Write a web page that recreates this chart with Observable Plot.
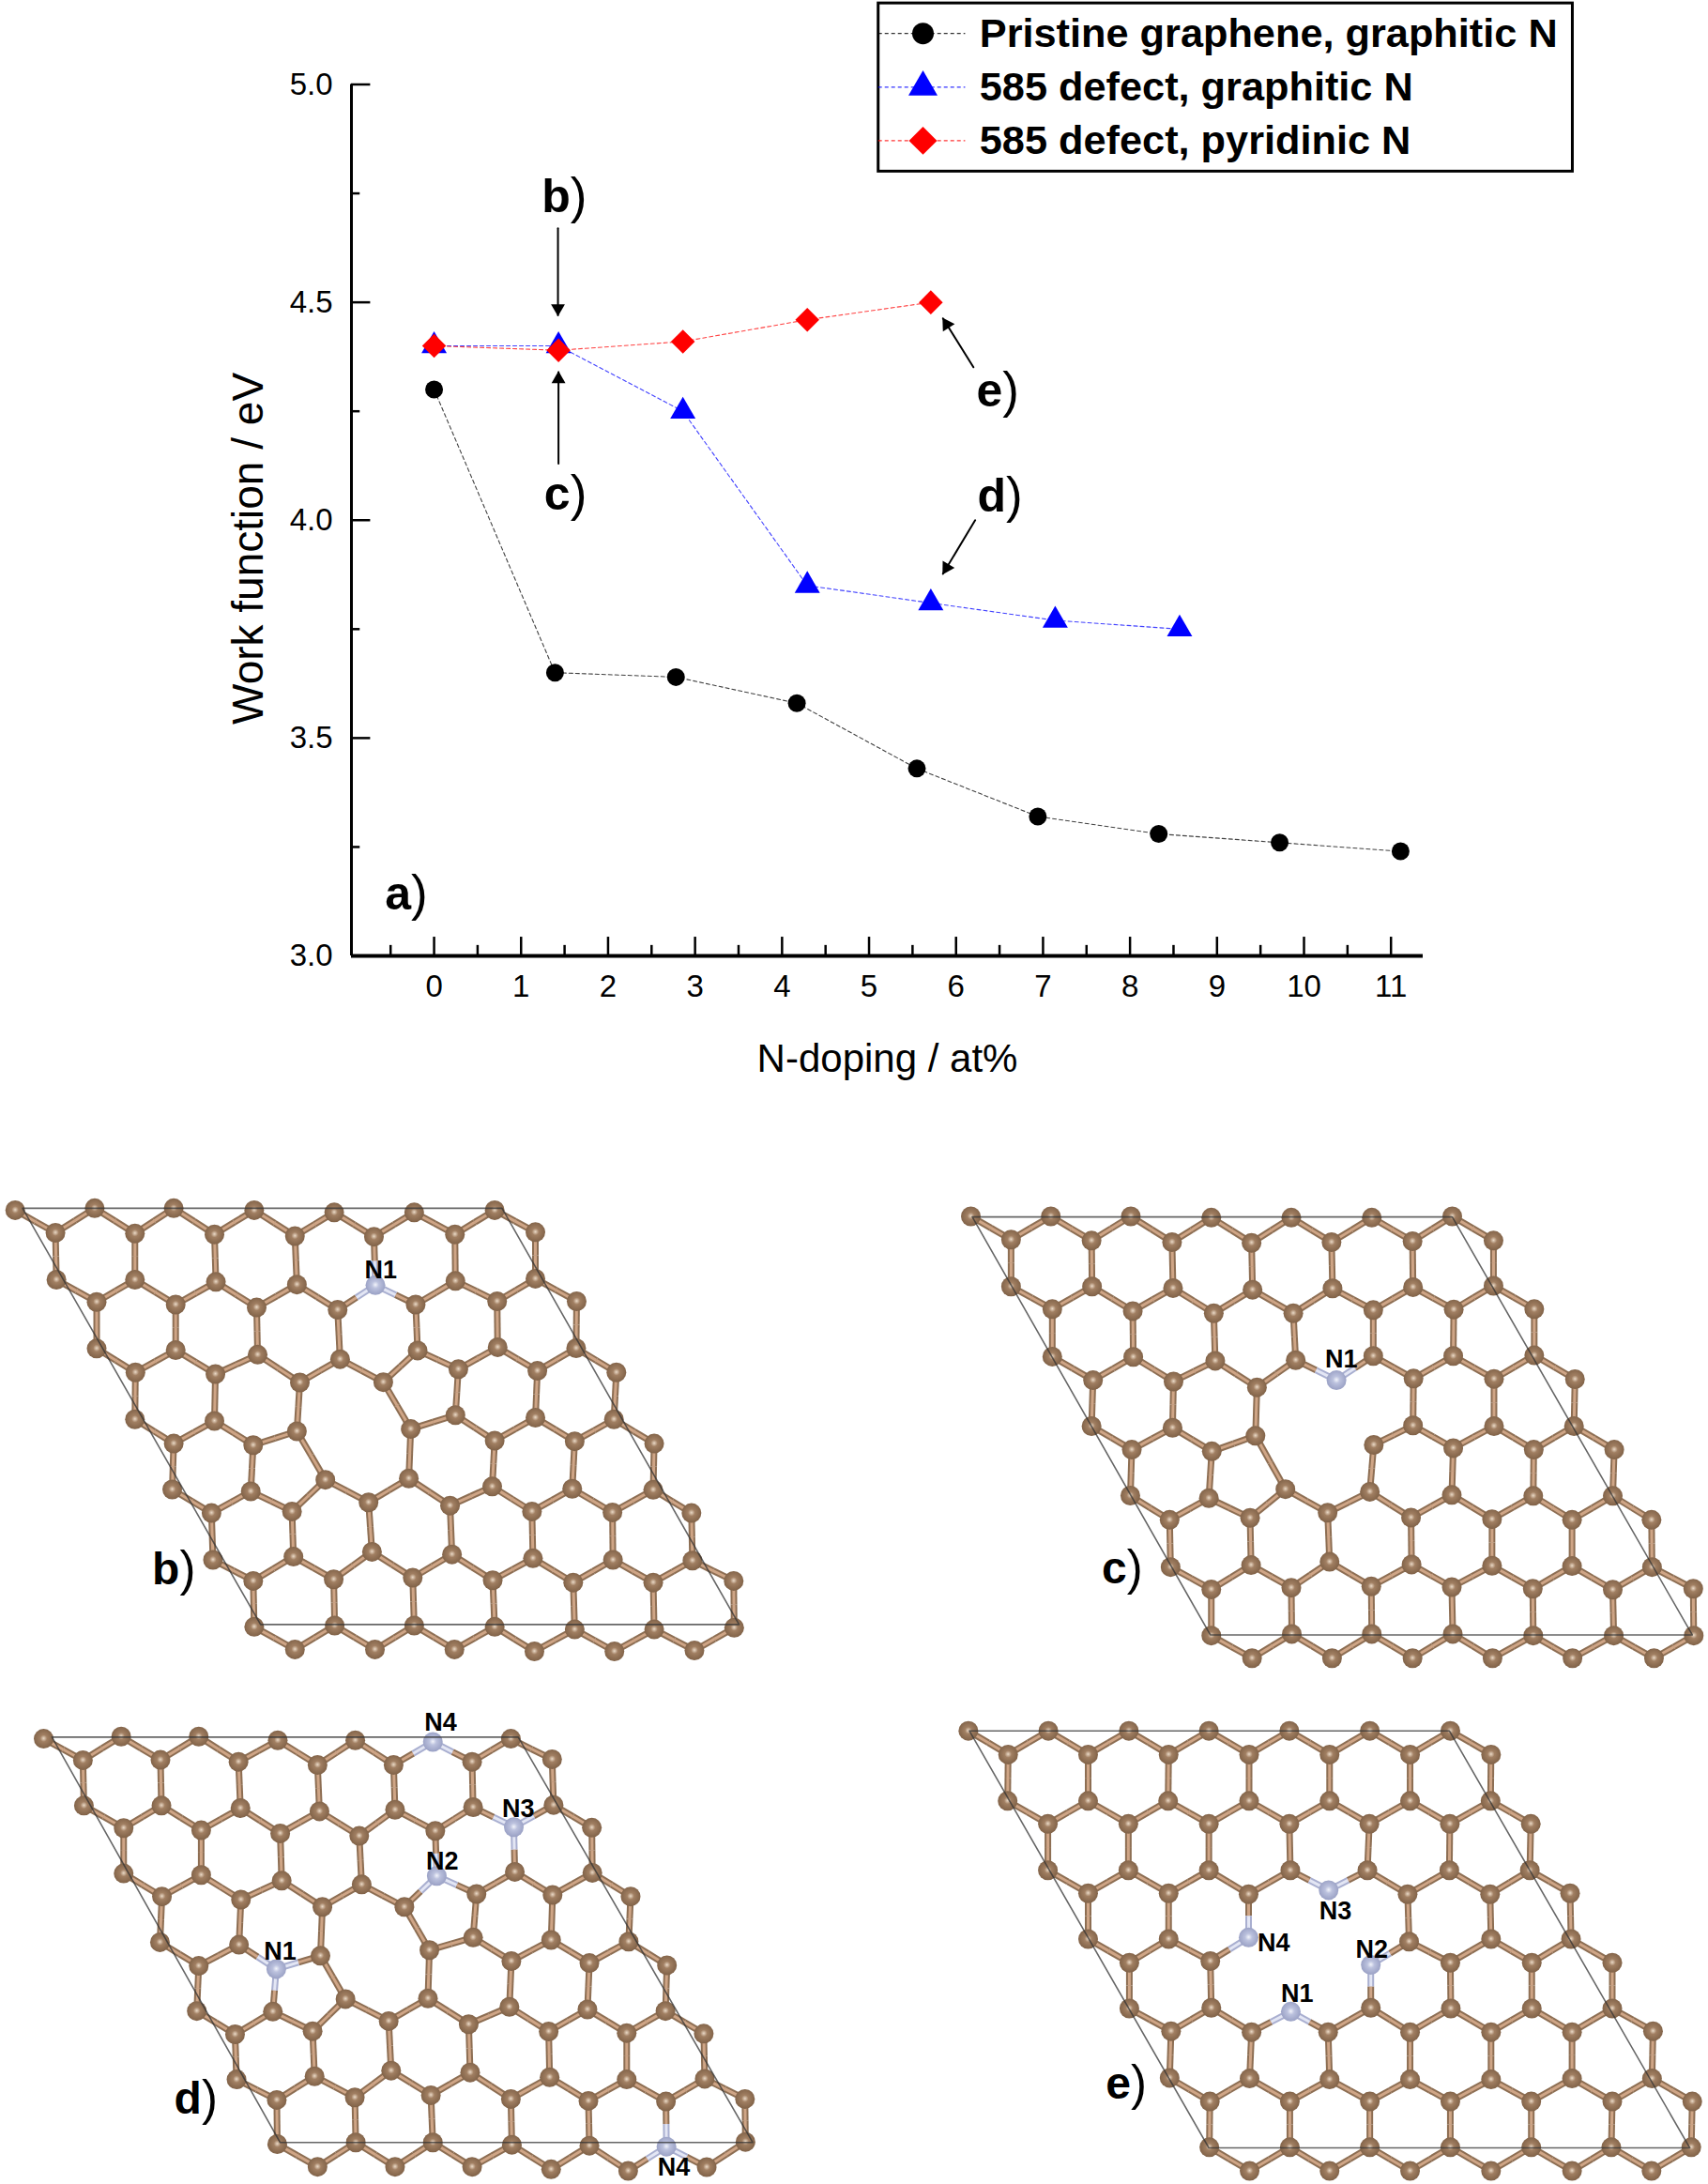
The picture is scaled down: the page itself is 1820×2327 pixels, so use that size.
<!DOCTYPE html>
<html>
<head>
<meta charset="utf-8">
<script src="https://cdn.jsdelivr.net/npm/d3@7"></script>
<script src="https://cdn.jsdelivr.net/npm/@observablehq/plot@0.6"></script>
<style>
html,body{margin:0;padding:0;background:#fff}
#page{position:relative;width:1820px;height:2327px;overflow:hidden;background:#fff}
</style>
</head>
<body>
<div id="page"></div>
<script>
// ---------- chart a) values ----------
const pristineX = [0, 1.39, 2.78, 4.17, 5.55, 6.94, 8.33, 9.72, 11.11];
const pristineY = [4.30, 3.65, 3.64, 3.58, 3.43, 3.32, 3.28, 3.26, 3.24];
const graphiticX = [0, 1.43, 2.86, 4.29, 5.71, 7.14, 8.57];
const graphiticY = [4.40, 4.40, 4.25, 3.85, 3.81, 3.77, 3.75];
const pyridinicX = [0, 1.43, 2.86, 4.29, 5.71];
const pyridinicY = [4.40, 4.39, 4.41, 4.46, 4.50];
const xMajor = [0,1,2,3,4,5,6,7,8,9,10,11];
const xMinor = [-0.5,0.5,1.5,2.5,3.5,4.5,5.5,6.5,7.5,8.5,9.5,10.5];
const yMajor = [3,3.5,4,4.5,5];
const yMinor = [3.25,3.75,4.25,4.75];
const yTickLabels = ["3.0","3.5","4.0","4.5","5.0"];
const legendNames = ["Pristine graphene, graphitic N","585 defect, graphitic N","585 defect, pyridinic N"];
const legendRowY = [5.117, 4.994, 4.871];
const legendColors = ["#000000","#0000ff","#ff0000"];
const legendSymbols = ["circle","triangle","diamond2"];
const legendSizes = [11.5, 11.5, 13.5];
const panelTags = ["a","b","c","d","e"];
const panelTagX = [-0.34, 1.49, 1.49, 6.50, 6.46];
const panelTagY = [3.142, 4.742, 4.059, 4.054, 4.296];
const arrowX1 = [1.424, 1.43, 6.22, 6.20];
const arrowY1 = [4.67, 4.13, 4.00, 4.351];
const arrowX2 = [1.424, 1.43, 5.85, 5.85];
const arrowY2 = [4.47, 4.34, 3.877, 4.463];

// ---------- atomic structures ----------
const bCarbon = [[30,113],[192,107],[353,107],[517,113],[680,120],[843,120],[1007,113],
[112,183],[274,185],[436,188],[600,193],[761,195],[926,188],[1090,181],
[114,328],[274,328],[439,335],[604,343],[927,332],[1090,325],
[196,397],[357,405],[522,414],[687,421],[846,405],[1012,395],[1174,395],
[196,541],[357,546],[524,560],[692,574],[850,547],[1013,537],[1173,540],
[275,615],[438,620],[610,646],[780,645],[933,605],[1094,610],[1255,615],
[274,760],[436,765],[604,797],[836,790],[927,747],[1090,755],[1250,760],
[353,835],[515,840],[1007,826],[1170,828],[1332,835],
[350,977],[510,983],[662,947],[832,943],[1002,968],[1165,975],[1330,978],
[430,1050],[594,1045],[750,1017],[916,1027],[1083,1045],[1247,1048],[1408,1050],
[433,1195],[597,1185],[757,1170],[920,1178],[1085,1190],[1248,1195],[1410,1197],
[515,1260],[679,1255],[840,1250],[1003,1258],[1167,1265],[1330,1265],[1494,1260],
[517,1402],[681,1398],[843,1398],[1007,1402],[1170,1410],[1332,1410],[1495,1405],
[600,1472],[763,1472],[925,1472],[1088,1478],[1251,1478],[1414,1475]];
const bNitrogen = [[764,345]];
const bCell = [[45,107],[1022,107],[1505,1395],[530,1395],[45,107]];
const bLabels = [["N1",775,300]];
const bTag = ["b",365,1225];

const cCarbon = [[65,103],[228,103],[391,103],[555,107],[718,107],[882,107],[1046,103],
[147,175],[311,178],[475,183],[637,185],[800,183],[965,180],[1130,178],
[147,320],[312,320],[477,325],[639,330],[802,326],[966,322],[1130,318],
[231,390],[395,396],[560,403],[722,403],[885,393],[1049,391],[1213,390],
[231,537],[396,538],[563,550],[727,548],[885,535],[1048,535],[1213,533],
[314,610],[478,614],[648,632],[967,605],[1131,606],[1296,607],
[311,752],[476,757],[645,782],[966,750],[1131,752],[1294,752],
[393,825],[556,830],[886,810],[1048,820],[1212,825],[1376,825],
[390,967],[550,975],[706,947],[878,955],[1045,965],[1211,968],[1373,968],
[470,1042],[634,1036],[792,1020],[962,1035],[1127,1040],[1290,1042],[1452,1042],
[472,1188],[636,1182],[796,1172],[963,1180],[1127,1184],[1290,1185],[1453,1188],
[555,1257],[718,1252],[881,1248],[1045,1250],[1210,1255],[1373,1258],[1537,1255],
[555,1400],[719,1395],[882,1395],[1047,1395],[1211,1400],[1375,1400],[1538,1400],
[638,1470],[801,1470],[965,1470],[1128,1470],[1291,1470],[1457,1470]];
const cNitrogen = [[810,610]];
const cCell = [[68,105],[1046,105],[1535,1398],[553,1398],[68,105]];
const cLabels = [["N1",820,545]];
const cTag = ["c",383,1195];

const dCarbon = [[88,155],[246,148],[404,148],[565,160],[723,160],[1040,155],
[168,223],[326,222],[485,228],[646,238],[801,238],[961,228],[1124,220],
[170,367],[328,367],[489,375],[650,385],[804,380],[963,372],[1127,365],
[251,438],[409,445],[570,455],[731,463],[886,447],[1205,437],
[251,582],[409,587],[573,605],[736,617],[1048,577],[1206,580],
[329,655],[490,665],[656,688],[823,688],[970,647],[1125,650],[1284,655],
[325,800],[486,808],[652,843],[874,825],[963,785],[1122,793],[1280,798],
[404,875],[1041,860],[1200,866],[1358,873],
[400,1018],[555,1020],[703,980],[871,978],[1037,1005],[1196,1013],[1355,1018],
[478,1092],[636,1082],[791,1050],[954,1060],[1117,1083],[1276,1088],[1433,1090],
[481,1235],[640,1225],[796,1207],[957,1213],[1119,1228],[1276,1235],[1435,1233],
[563,1300],[722,1292],[877,1285],[1040,1297],[1198,1303],[1356,1305],[1517,1297],
[564,1440],[724,1435],[881,1435],[1042,1442],[1200,1445],[1518,1433],
[646,1512],[804,1512],[961,1512],[1122,1520],[1279,1525],[1439,1513]];
const dNitrogen = [[881,165],[1046,435],[889,590],[562,885],[1357,1448]];
const dCell = [[105,150],[1055,150],[1533,1435],[570,1435],[105,150]];
const dLabels = [["N4",897,105],["N3",1055,377],["N2",900,543],["N1",570,830],["N4",1372,1515]];
const dTag = ["d",410,1297];

const eCarbon = [[60,130],[223,130],[387,130],[550,130],[714,130],[878,130],[1042,130],
[141,205],[304,205],[468,205],[632,205],[796,205],[960,205],[1125,205],
[140,352],[304,352],[467,352],[632,352],[796,352],[960,352],[1124,352],
[222,425],[386,425],[550,425],[714,425],[877,425],[1041,425],[1206,425],
[222,572],[386,572],[550,572],[716,572],[873,572],[1040,572],[1204,572],
[304,645],[468,645],[631,648],[955,648],[1123,648],[1286,645],
[304,790],[468,790],[958,798],[1125,790],[1288,790],
[388,865],[553,860],[1042,865],[1208,865],[1372,865],
[388,1010],[555,1008],[880,1008],[1043,1010],[1208,1010],[1372,1010],
[473,1082],[637,1085],[793,1085],[960,1085],[1125,1085],[1290,1085],[1455,1082],
[470,1230],[633,1232],[796,1235],[960,1235],[1125,1235],[1290,1232],[1453,1232],
[552,1305],[715,1305],[878,1305],[1042,1305],[1207,1305],[1372,1305],[1535,1305],
[551,1450],[715,1450],[878,1450],[1042,1450],[1207,1450],[1370,1450],[1533,1450],
[633,1525],[796,1525],[960,1525],[1125,1525],[1290,1525],[1452,1525]];
const eNitrogen = [[794,635],[631,785],[880,872],[717,1020]];
const eCell = [[62,130],[1040,130],[1530,1452],[550,1452],[62,130]];
const eLabels = [["N3",808,703],["N4",682,803],["N2",882,823],["N1",730,965]];
const eTag = ["e",391,1250];

const FONT = "'Liberation Sans', Arial, sans-serif";
const page = document.getElementById("page");
function place(el, left, top){
  el.style.position = "absolute"; el.style.left = left+"px"; el.style.top = top+"px";
  page.appendChild(el);
}
const zip = (xs, ys) => xs.map((x,i) => ({x, y: ys[i]}));

// a letter in bold and its closing parenthesis in regular weight, split at the anchor point
function tagMarks(data, opts){
  return [
    Plot.text(data, {...opts, text: d => d.t, textAnchor: "end", fontWeight: "bold", fontSize: opts.size, fill: "#000"}),
    Plot.text(data, {...opts, text: () => ")", textAnchor: "start", fontWeight: "normal", fontSize: opts.size * 1.06, fill: "#000"})
  ];
}

// ---------- chart a) ----------
const series = [
  {data: zip(pristineX, pristineY), color: legendColors[0], symbol: "circle", r: 9.5},
  {data: zip(graphiticX, graphiticY), color: legendColors[1], symbol: "triangle", r: 10},
  {data: zip(pyridinicX, pyridinicY), color: legendColors[2], symbol: "diamond2", r: 11.5}
];
const legendData = legendNames.map((t,i) => ({t, y: legendRowY[i], c: legendColors[i], s: legendSymbols[i], r: legendSizes[i]}));
const arrows = arrowX1.map((x,i) => ({x1:x, y1:arrowY1[i], x2:arrowX2[i], y2:arrowY2[i]}));
const tagsA = panelTags.map((t,i) => ({t, x: panelTagX[i], y: panelTagY[i]}));

// plot scale factors, used only to turn an arrow's direction into screen degrees
const PX = 1142 / 12.32, PY = 928.5 / 2;
const arrowHeads = arrows.map(a => {
  const dx = (a.x2 - a.x1) * PX, dy = -(a.y2 - a.y1) * PY, len = Math.hypot(dx, dy);
  return {
    x: a.x2 - (dx / len) * 7.5 / PX,
    y: a.y2 + (dy / len) * 7.5 / PY,
    angle: Math.atan2(dx, -dy) * 180 / Math.PI
  };
});

const chart = Plot.plot({
  width: 1820, height: 1190,
  marginLeft: 374, marginRight: 304, marginTop: 89.5, marginBottom: 172,
  style: {fontFamily: FONT, background: "#fff", color: "#000"},
  x: {domain: [-0.95, 11.37]},
  y: {domain: [3, 5]},
  marks: [
    Plot.ruleX([-0.95], {y1: 3, y2: 5, stroke: "#000", strokeWidth: 3}),
    Plot.ruleY([3], {x1: -0.95, x2: 11.37, stroke: "#000", strokeWidth: 4}),
    Plot.ruleX(xMajor, {y1: 3, y2: 3.043, stroke: "#000", strokeWidth: 2.5}),
    Plot.ruleX(xMinor, {y1: 3, y2: 3.024, stroke: "#000", strokeWidth: 2.5}),
    Plot.ruleY(yMajor, {x1: -0.95, x2: -0.73, stroke: "#000", strokeWidth: 2.5}),
    Plot.ruleY(yMinor, {x1: -0.95, x2: -0.85, stroke: "#000", strokeWidth: 2.5}),
    Plot.axisX({ticks: xMajor, tickSize: 0, tickPadding: 20, fontSize: 33, label: null, tickFormat: d => String(d)}),
    Plot.axisY({ticks: yMajor, tickSize: 0, tickPadding: 20, fontSize: 33, label: null, tickFormat: (d,i) => yTickLabels[i]}),
    Plot.text(["N-doping / at%"], {x: 5.21, y: 2.763, fontSize: 42, text: d => d}),
    Plot.text(["Work function / eV"], {x: -2.125, y: 3.935, rotate: -90, fontSize: 46, text: d => d}),
    ...series.map(s => Plot.line(s.data, {x: "x", y: "y", stroke: s.color, strokeWidth: 1.1, strokeDasharray: "4,3", strokeOpacity: 0.75})),
    ...series.map(s => Plot.dot(s.data, {x: "x", y: "y", fill: s.color, stroke: "none", symbol: s.symbol, r: s.r})),
    Plot.arrow(arrows, {x1: "x1", y1: "y1", x2: "x2", y2: "y2", bend: 0, stroke: "#000", strokeWidth: 2, headLength: 0}),
    Plot.dot(arrowHeads, {x: "x", y: "y", rotate: "angle", symbol: "triangle", r: 5.5, fill: "#000", stroke: "none"}),
    ...tagMarks(tagsA, {x: "x", y: "y", size: 50, dx: 7}),
    Plot.rect([{x1: 5.11, x2: 13.09, y1: 4.80, y2: 5.186}], {x1: "x1", x2: "x2", y1: "y1", y2: "y2", fill: "#fff", stroke: "#000", strokeWidth: 3}),
    Plot.ruleY(legendData, {y: "y", x1: 5.11, x2: 6.11, stroke: "c", strokeWidth: 1.2, strokeDasharray: "4,3", strokeOpacity: 0.8}),
    ...legendData.map(d => Plot.dot([d], {x: 5.62, y: "y", fill: d.c, stroke: "none", symbol: d.s, r: d.r})),
    Plot.text(legendData, {x: 6.27, y: "y", text: "t", textAnchor: "start", fontSize: 43.3, fontWeight: "bold"})
  ]
});
place(chart, 0, 0);

// ---------- lattice panels ----------
const ZOOM = 1568;
function lattice({carbon, nitrogen, cell, labels, tag, left, top, w, h}){
  const sx = w / ZOOM, sy = h / ZOOM;
  const atoms = [...carbon.map(p => ({x:p[0], y:p[1], n:false})), ...nitrogen.map(p => ({x:p[0], y:p[1], n:true}))];
  const halves = [];
  for (let i = 0; i < atoms.length; i++) for (let j = i + 1; j < atoms.length; j++) {
    const a = atoms[i], b = atoms[j];
    if (Math.hypot((a.x-b.x)*sx, (a.y-b.y)*sy) < 68) {
      const mx = (a.x+b.x)/2, my = (a.y+b.y)/2;
      halves.push({x1:a.x, y1:a.y, x2:mx, y2:my, n:a.n}, {x1:b.x, y1:b.y, x2:mx, y2:my, n:b.n});
    }
  }
  const defs = () => {
    const s = d3.create("svg:defs");
    [["atomC","#ead9c6","#a17f62","#7d5f45"],["atomN","#f2f4fb","#bcc2de","#969dc2"]].forEach(([id,c0,c1,c2]) => {
      const g = s.append("radialGradient").attr("id", id).attr("cx","50%").attr("cy","48%").attr("r","55%");
      g.append("stop").attr("offset","0%").attr("stop-color",c0);
      g.append("stop").attr("offset","32%").attr("stop-color",c1);
      g.append("stop").attr("offset","100%").attr("stop-color",c2);
    });
    return s.node();
  };
  const plot = Plot.plot({
    width: w, height: h, margin: 0,
    style: {fontFamily: FONT, background: "transparent", color: "#000"},
    x: {domain: [0, ZOOM], axis: null},
    y: {domain: [ZOOM, 0], axis: null},
    marks: [
      defs,
      Plot.link(halves.filter(d => !d.n), {x1:"x1", y1:"y1", x2:"x2", y2:"y2", stroke:"#8d6e53", strokeWidth:7}),
      Plot.link(halves.filter(d => d.n), {x1:"x1", y1:"y1", x2:"x2", y2:"y2", stroke:"#a9afd0", strokeWidth:7}),
      Plot.link(halves.filter(d => !d.n), {x1:"x1", y1:"y1", x2:"x2", y2:"y2", stroke:"#cfa586", strokeWidth:3}),
      Plot.link(halves.filter(d => d.n), {x1:"x1", y1:"y1", x2:"x2", y2:"y2", stroke:"#e3e6f4", strokeWidth:3}),
      Plot.dot(atoms.filter(d => !d.n), {x:"x", y:"y", r:10.5, fill:"url(#atomC)", stroke:"none"}),
      Plot.dot(atoms.filter(d => d.n), {x:"x", y:"y", r:10.5, fill:"url(#atomN)", stroke:"none"}),
      Plot.line(cell, {x: d => d[0], y: d => d[1], stroke:"#333", strokeWidth:1.6, strokeOpacity:0.75}),
      Plot.text(labels, {x: d => d[1], y: d => d[2], text: d => d[0], fontSize:27, fontWeight:"bold", fill:"#000"}),
      ...tagMarks([{t: tag[0], x: tag[1], y: tag[2]}], {x: "x", y: "y", size: 48})
    ]
  });
  place(plot, left, top);
}
lattice({carbon:bCarbon, nitrogen:bNitrogen, cell:bCell, labels:bLabels, tag:bTag, left:0, top:1250, w:820, h:540});
lattice({carbon:cCarbon, nitrogen:cNitrogen, cell:cCell, labels:cLabels, tag:cTag, left:1000, top:1260, w:820, h:540});
lattice({carbon:dCarbon, nitrogen:dNitrogen, cell:dCell, labels:dLabels, tag:dTag, left:0, top:1800, w:820, h:527});
lattice({carbon:eCarbon, nitrogen:eNitrogen, cell:eCell, labels:eLabels, tag:eTag, left:1000, top:1800, w:820, h:527});
</script>
</body>
</html>
